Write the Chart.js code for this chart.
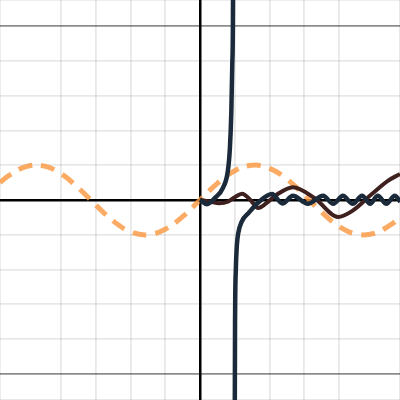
<!DOCTYPE html>
<html><head><meta charset="utf-8">
<script src="https://cdn.jsdelivr.net/npm/chart.js@4"></script>
<style>html,body{margin:0;padding:0;background:#fff;overflow:hidden}</style>
</head><body>
<canvas id="c" width="400" height="400"></canvas>
<script>
const xMin = -5.75, xMax = 5.75, yMin = -5.75, yMax = 5.75;
const orangeX = [-5.75,-5.5,-5,-4.5,-4,-3.5,-3,-2.5,-2,-1.5,-1,-0.5,0,0.5,1,1.5,2,2.5,3,3.5,4,4.5,5,5.5,5.75];
const orangeY = [0.5,0.7,0.96,0.98,0.76,0.35,-0.14,-0.6,-0.91,-1.0,-0.84,-0.48,0,0.48,0.84,1.0,0.91,0.6,0.14,-0.35,-0.76,-0.98,-0.96,-0.7,-0.5];
const brownX = [0,0.3,0.55,0.8,1.0,1.21,1.45,1.67,1.9,2.2,2.67,3.3,3.97,4.4,4.94,5.4,5.75];
const brownY = [0,-0.05,-0.09,-0.05,0.08,0.18,0.0,-0.23,-0.1,0.15,0.37,0.05,-0.49,-0.3,0.17,0.55,0.75];
const navyX = [0,0.2,0.43,0.66,0.8,0.86,0.9,0.93,0.95,0.96,0.965,
  0.99,1.0,1.01,1.03,1.06,1.1,1.2,1.4,1.7,2.07,2.37,2.67,3.1,3.54,3.83,4.11,4.39,4.66,4.89,5.11,5.36,5.6,5.76];
const navyY = [0,-0.12,0.06,0.35,0.83,1.5,2.5,4,6,20,null,
  -20,-6,-3.2,-2.0,-1.3,-0.95,-0.62,-0.37,-0.05,0.17,-0.1,0.12,-0.11,0.12,-0.11,0.12,-0.11,0.12,-0.11,0.12,-0.11,0.12,-0.05];
const pts = (xs, ys) => xs.map((x, i) => ({x, y: ys[i]}));
function gridColor(ctx){
  const v = ctx.tick.value;
  if (Math.abs(v) < 1e-9) return '#000';
  if (Math.abs(v % 5) < 1e-9) return 'rgba(0,0,0,0.45)';
  return 'rgba(0,0,0,0.09)';
}
function gridWidth(ctx){ return Math.abs(ctx.tick.value) < 1e-9 ? 2.5 : 1.8; }
const scaleOpt = (min,max) => ({type:'linear',min,max,
  ticks:{display:false,stepSize:1},border:{display:false},
  grid:{color:gridColor,lineWidth:gridWidth,drawTicks:false}});
new Chart(document.getElementById('c'), {
  type:'line',
  data:{datasets:[
    {data:pts(navyX,navyY),borderColor:'#1b2a3a',borderWidth:4.5,pointRadius:0,cubicInterpolationMode:'monotone',spanGaps:false,order:0},
    {data:pts(brownX,brownY),borderColor:'#3e201e',borderWidth:4,pointRadius:0,cubicInterpolationMode:'monotone',order:1},
    {data:pts(orangeX,orangeY),borderColor:'rgba(250,150,60,0.8)',borderWidth:5,borderDash:[14,9],pointRadius:0,tension:0.4,order:2}
  ]},
  options:{responsive:false,animation:false,layout:{padding:0},
    plugins:{legend:{display:false},tooltip:{enabled:false}},
    scales:{x:scaleOpt(xMin,xMax),y:scaleOpt(yMin,yMax)}}
});
</script>
</body></html>
